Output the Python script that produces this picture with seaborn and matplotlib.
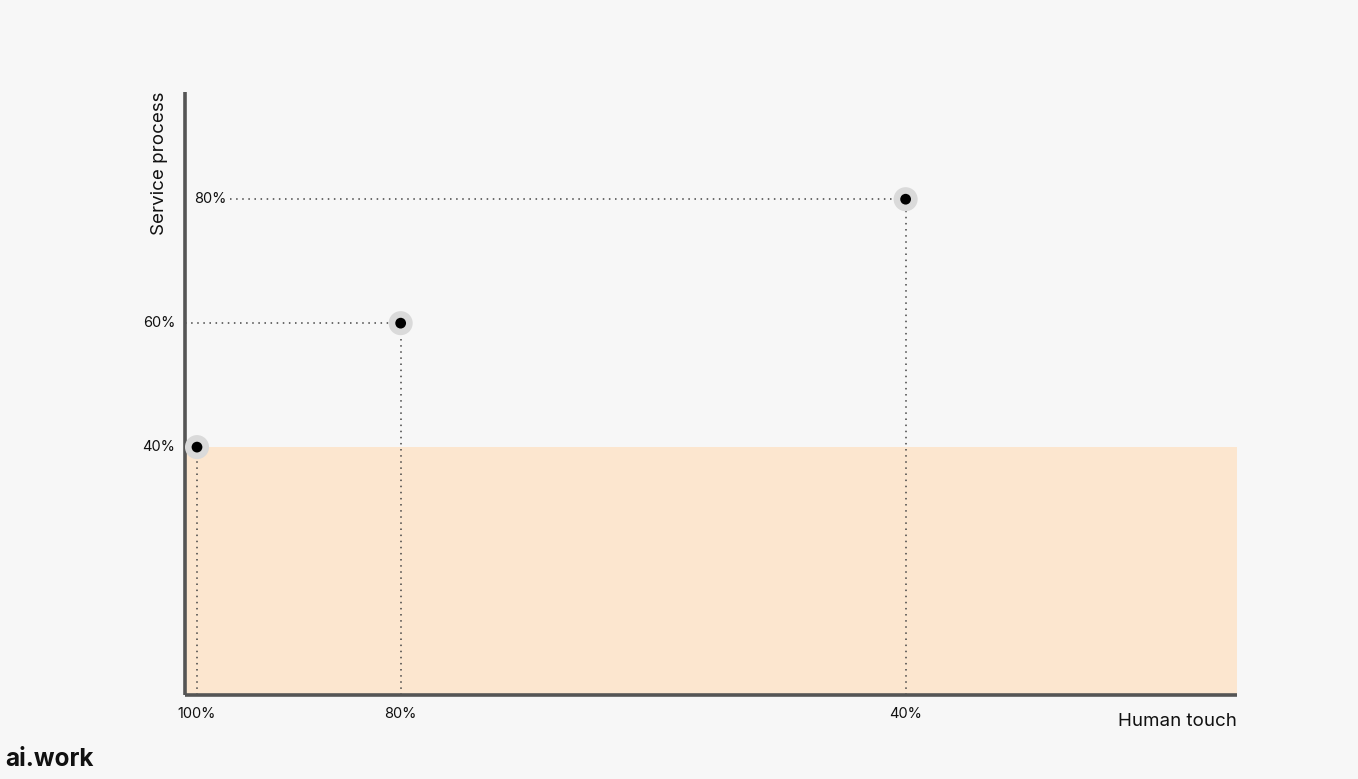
import matplotlib
matplotlib.use("Agg")
import matplotlib.pyplot as plt
import seaborn as sns
import pandas as pd

# Data
human_touch_labels = ["100%", "80%", "40%"]
service_process = [40, 60, 80]
service_labels = ["40%", "60%", "80%"]
# horizontal display position of each human-touch level (fraction of axis width)
human_touch_pos = [0.0114, 0.205, 0.685]
zone_top = 40

df = pd.DataFrame({"x": human_touch_pos, "y": service_process, "label": human_touch_labels})

sns.set_theme(style="white")
plt.rcParams["font.family"] = ["Inter", "DejaVu Sans"]

BG = "#f7f7f7"
fig = plt.figure(figsize=(13.58, 7.79), dpi=100, facecolor=BG)
ax = fig.add_axes([185/1358, 84/779, 1052/1358, 603/779])
ax.set_facecolor(BG)
ax.set_xlim(0, 1)
ax.set_ylim(0, 97.3)

# shaded zone
ax.axhspan(0, zone_top, color="#fce6cf", zorder=0, lw=0)

dot_kw = dict(color="#444444", lw=1.1, linestyle=(0, (1, 3)), zorder=1)
for x, y in zip(human_touch_pos, service_process):
    ax.plot([x, x], [0, y], **dot_kw)
    x0 = 0.043 if y == 80 else 0.0
    ax.plot([x0, x], [y, y], **dot_kw)

sns.scatterplot(data=df, x="x", y="y", s=300, color="#dadada", edgecolor="none", ax=ax, zorder=3, legend=False)
sns.scatterplot(data=df, x="x", y="y", s=60, color="#000000", edgecolor="none", ax=ax, zorder=4, legend=False)

ax.set_xticks([])
ax.set_yticks([])
ax.set_xlabel("")
ax.set_ylabel("")

for s in ["top", "right"]:
    ax.spines[s].set_visible(False)
for s in ["left", "bottom"]:
    ax.spines[s].set_color("#555555")
    ax.spines[s].set_linewidth(2.6)
    ax.spines[s].set_capstyle("butt")

# y tick labels
for y, lab in zip(service_process, service_labels):
    if y == 80:
        ax.text(0.0085, y, lab, ha="left", va="center", fontsize=10.5, color="#111111")
    else:
        ax.text(-0.0095, y, lab, ha="right", va="center", fontsize=10.5, color="#111111")

# x tick labels
for x, lab in zip(human_touch_pos, human_touch_labels):
    ax.text(x, -3.06, lab, ha="center", va="center", fontsize=10.5, color="#111111")

ax.text(1.0, -4.2, "Human touch", ha="right", va="center", fontsize=13.5, color="#111111")
ax.text(-0.0238, 1.0, "Service process", rotation=90, ha="center", va="top",
        fontsize=13.5, color="#111111", transform=ax.transAxes)

fig.text(5/1358, 1 - 760/779, "ai.work", ha="left", va="center", fontsize=17.5,
         fontweight="bold", color="#111111")

fig.savefig("out.png", dpi=100, facecolor=BG)
